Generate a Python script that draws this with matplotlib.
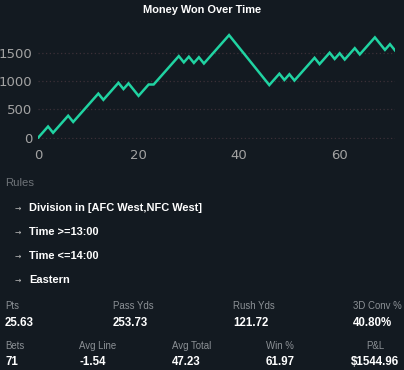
import matplotlib
matplotlib.use("Agg")
import matplotlib.pyplot as plt

# cumulative money won after each bet
bet_no = list(range(72))
money = [0, 100, 200, 90, 190, 290, 390, 280, 380, 480, 580, 680, 780, 670,
         770, 870, 970, 860, 960, 850, 740, 840, 940, 940, 1040, 1140, 1240,
         1340, 1440, 1330, 1430, 1320, 1420, 1310, 1410, 1510, 1610, 1710,
         1810, 1700, 1590, 1480, 1370, 1260, 1150, 1040, 930, 1030, 1130,
         1020, 1120, 1010, 1110, 1210, 1310, 1410, 1300, 1400, 1500, 1390,
         1490, 1380, 1480, 1580, 1470, 1570, 1670, 1770, 1660, 1550, 1650,
         1540]

rules = ["Division in [AFC West,NFC West]", "Time >=13:00", "Time <=14:00",
         "Eastern"]

stats_row1 = ["Pts", "Pass Yds", "Rush Yds", "3D Conv %"]
values_row1 = ["25.63", "253.73", "121.72", "40.80%"]
stats_row2 = ["Bets", "Avg Line", "Avg Total", "Win %", "P&L"]
values_row2 = ["71", "-1.54", "47.23", "61.97", "$1544.96"]

bg = "#131a21"
W, H = 404, 370

fig = plt.figure(figsize=(W / 100, H / 100), dpi=100, facecolor=bg)

ax = fig.add_axes([38 / W, 1 - 139 / H, 357 / W, 109 / H], facecolor=bg)
ax.plot(bet_no, money, color="#20d3a2", lw=1.8, solid_joinstyle="miter")
ax.set_xlim(0, 71)
ax.set_ylim(-20, 1900)
ax.set_yticks([0, 500, 1000, 1500])
ax.set_xticks([0, 20, 40, 60])
for s in ax.spines.values():
    s.set_visible(False)
ax.tick_params(length=0, colors="#a3a3a3", labelsize=9.5)
ax.tick_params(axis="y", pad=4)
ax.tick_params(axis="x", pad=7)
ax.grid(axis="y", color="#3b3038", ls=(0, (1, 2)), lw=0.9)
ax.set_axisbelow(True)

fig.text(0.5, 1 - 10 / H, "Money Won Over Time", ha="center", va="center",
         color="white", fontsize=7.9, fontweight="bold", family="Liberation Sans")

# rules section
fig.text(5 / W, 1 - 183 / H, "Rules", color="#6e7378", fontsize=8.2,
         va="center", family="Liberation Sans")
rule_y = [208, 232, 256, 280]
for txt, y in zip(rules, rule_y):
    fig.text(15 / W, 1 - y / H, "\u2192", color="#b8b8b8", fontsize=5.5,
             va="center", family="DejaVu Sans")
    fig.text(29 / W, 1 - y / H, txt, color="white", fontsize=7.9,
             fontweight="bold", va="center", family="Liberation Sans")

# stats
lab_col = "#8c9196"
x1 = [5, 113, 233, 353]
for lab, val, x in zip(stats_row1, values_row1, x1):
    fig.text(x / W, 1 - 306 / H, lab, color=lab_col, fontsize=6.9,
             va="center", family="Liberation Sans")
    fig.text(x / W, 1 - 323 / H, val, color="white", fontsize=8.3,
             fontweight="bold", va="center", family="Liberation Sans")

x2 = [5, 79, 172, 266]
for lab, val, x in zip(stats_row2[:4], values_row2[:4], x2):
    fig.text(x / W, 1 - 346 / H, lab, color=lab_col, fontsize=6.9,
             va="center", family="Liberation Sans")
    fig.text(x / W, 1 - 362 / H, val, color="white", fontsize=8.3,
             fontweight="bold", va="center", family="Liberation Sans")
fig.text(375 / W, 1 - 346 / H, stats_row2[4], color=lab_col, fontsize=6.9,
         va="center", ha="center", family="Liberation Sans")
fig.text(375 / W, 1 - 362 / H, values_row2[4], color="white", fontsize=8.3,
         fontweight="bold", va="center", ha="center", family="Liberation Sans")

fig.savefig("out.png", dpi=100, facecolor=bg)
